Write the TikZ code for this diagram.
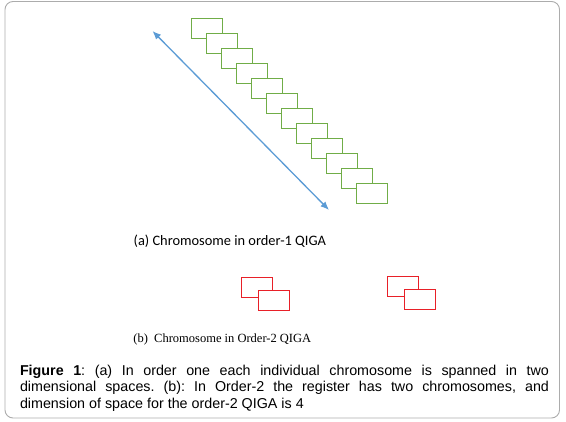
\documentclass[tikz,border=0pt]{standalone}
\usepackage{fontspec}
\setmainfont{Liberation Sans}
\newfontfamily\calfont{Carlito}
\newfontfamily\timesfont{Liberation Serif}
\usetikzlibrary{
  arrows.meta,
  positioning
}
\definecolor{genegreen}{RGB}{112,173,71}
\definecolor{genered}{RGB}{232,32,40}
\definecolor{spanblue}{RGB}{91,155,213}
\definecolor{framegray}{RGB}{172,172,172}
\tikzset{
  >={Latex[length=8.5pt,width=7pt]},
  gene box/.style={
    draw=genegreen,
    fill=white,
    line width=0.9pt,
    minimum width=31pt,
    minimum height=20pt,
    inner sep=0pt
  },
  pair box/.style={
    gene box,
    draw=genered
  },
  span/.style={<->,line width=1.3pt,draw=spanblue},
  sublabel/.style={font=\calfont\fontsize{14.4}{17}\selectfont,anchor=base},
  caption/.style={font=\fontsize{14.3}{16.6}\selectfont\frenchspacing,text width=529pt,align=justify,inner sep=0pt}
}

\begin{document}
\begin{tikzpicture}[x=1pt,y=-1pt]
  \useasboundingbox (0,0) rectangle (566,422);
  \draw[framegray,line width=0.9pt,rounded corners=8pt] (5,1.5) rectangle (559.5,418);

  % order-1 chromosome
  \foreach \i in {0,...,11}
    \node[gene box] (g\i) at ({206.7+15*\i},{28.3+15*\i}) {};
  \coordinate (span start) at (152.5,31);
  \coordinate (span end) at (329,210);
  \draw[span] (span start) -- (span end);
  \node[sublabel] (alabel) at (229.8,245.3) {(a) Chromosome in order-1 QIGA};

  % order-2 register
  \node[pair box] (p1) at (256.8,287.3) {};
  \node[pair box] (p2) at (273.8,300.3) {};
  \node[pair box] (q1) at (403.3,286) {};
  \node[pair box] (q2) at (420.3,299.3) {};
  \node[font=\timesfont\fontsize{12.5}{14}\selectfont,anchor=base] (blabel) at (222.3,342.3)
    {(b)\ \ Chromosome in Order-2 QIGA};

  \node[caption] (cap) at (284.5,388) {\textbf{Figure 1}: (a) In order one each individual chromosome is spanned in two\linebreak
    dimensional spaces. (b): In Order-2 the register has two chromosomes, and\linebreak
    dimension of space for the order-2 QIGA is 4};
\end{tikzpicture}
\end{document}
